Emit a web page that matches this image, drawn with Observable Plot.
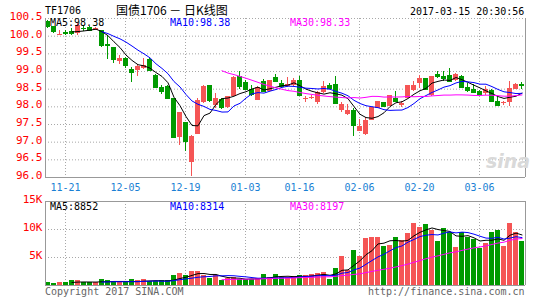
<!DOCTYPE html>
<html><head><meta charset="utf-8">
<script src="https://cdn.jsdelivr.net/npm/d3@7"></script>
<script src="https://cdn.jsdelivr.net/npm/@observablehq/plot@0.6"></script>
<style>
body{margin:0;background:#fff;}
#wrap{position:relative;width:540px;height:300px;overflow:hidden;background:#fff;}
#wrap svg{position:absolute;left:0;top:0;background:transparent;}
.t{position:absolute;white-space:nowrap;font-family:"DejaVu Sans Mono",monospace;font-size:10px;line-height:10px;}
</style></head><body><div id="wrap"></div>
<script>
const dates = ["11-16","11-17","11-18","11-21","11-22","11-23","11-24","11-25","11-28","11-29","11-30",
"12-01","12-02","12-05","12-06","12-07","12-08","12-09","12-12","12-13","12-14","12-15","12-16","12-19","12-20","12-21","12-22","12-23","12-26","12-27","12-28","12-29","12-30",
"01-03","01-04","01-05","01-06","01-09","01-10","01-11","01-12","01-13","01-16","01-17","01-18","01-19","01-20","01-23","01-24","01-25","01-26",
"02-03","02-06","02-07","02-08","02-09","02-10","02-13","02-14","02-15","02-16","02-17","02-20","02-21","02-22","02-23","02-24","02-27","02-28",
"03-01","03-02","03-03","03-06","03-07","03-08","03-09","03-10","03-13","03-14","03-15"];
const open = [100.41,100.26,100.04,100.10,100.14,100.08,100.23,100.24,100.17,100.17,99.76,99.67,99.27,99.36,99.07,99.03,
99.09,99.35,98.90,98.54,98.57,98.24,97.12,97.56,96.43,97.22,98.11,98.60,98.05,98.21,97.97,98.28,
98.85,98.68,98.50,98.19,98.73,98.42,98.82,98.66,98.57,98.61,98.75,98.22,98.24,98.12,98.40,98.61,
98.64,97.91,97.78,97.90,97.31,97.22,97.62,97.95,98.12,98.00,98.24,98.05,98.24,98.47,98.66,98.80,
98.31,98.92,98.87,98.90,98.75,98.85,98.54,98.50,98.44,98.38,98.47,98.16,98.12,98.12,98.50,98.62];
const high = [100.45,100.27,100.17,100.17,100.22,100.36,100.29,100.26,100.24,100.17,100.03,99.67,99.46,99.41,99.10,99.20,
99.37,99.36,98.92,98.61,98.60,98.24,97.84,97.56,97.19,98.24,98.60,98.60,98.38,98.24,98.30,98.85,
98.99,98.75,98.61,98.57,98.76,98.75,98.92,98.75,98.82,98.80,98.85,98.30,98.33,98.44,98.73,98.66,
98.85,98.12,98.07,97.95,97.65,97.69,97.97,98.16,98.12,98.33,98.44,98.16,98.61,98.73,98.88,98.80,
98.85,99.01,98.99,99.08,98.94,98.88,98.66,98.63,98.47,98.57,98.50,98.28,98.16,98.71,98.66,98.70];
const low = [100.22,100.08,100.01,100.03,100.03,100.03,100.14,100.14,100.15,99.67,99.34,99.24,99.21,99.09,98.68,98.85,
99.06,99.00,98.52,98.35,98.22,97.10,96.90,96.75,96.04,97.22,98.09,98.12,97.95,97.92,97.95,98.28,
98.50,98.47,98.28,98.19,98.40,98.42,98.71,98.54,98.54,98.58,98.28,98.12,98.20,98.07,98.38,98.50,
98.09,97.83,97.76,97.15,97.29,97.20,97.62,97.95,97.97,98.00,98.14,97.98,98.24,98.44,98.52,98.50,
98.28,98.80,98.71,98.73,98.73,98.54,98.40,98.38,98.31,98.33,98.14,98.03,98.05,98.00,98.50,98.50];
const close = [100.26,100.12,100.06,100.08,100.08,100.31,100.21,100.17,100.22,99.73,99.74,99.34,99.36,99.16,98.97,99.13,
99.18,99.03,98.54,98.42,98.24,97.12,97.84,97.01,97.15,98.19,98.57,98.19,98.24,97.97,98.28,98.82,
98.57,98.50,98.35,98.54,98.42,98.75,98.71,98.57,98.62,98.75,98.33,98.24,98.26,98.40,98.57,98.52,
98.09,98.07,97.90,97.46,97.43,97.62,97.97,98.14,98.00,98.31,98.16,98.10,98.61,98.60,98.80,98.50,
98.85,98.85,98.80,98.73,98.92,98.54,98.47,98.40,98.35,98.50,98.16,98.05,98.13,98.52,98.64,98.60];
const volume = [500,350,500,500,850,850,450,450,450,1150,850,700,450,450,1050,850,
1050,700,700,850,850,1750,2100,1850,2450,2450,1850,1250,1850,850,1300,1450,
1000,1000,1150,1300,2000,1400,1900,1480,1480,1600,1830,1720,1890,2190,2300,1000,
2960,5090,2600,6330,5090,8400,8640,8640,7040,7220,8640,8050,9350,11130,10300,10830,
9770,7930,10240,9470,6870,9410,8530,8290,6630,7520,9410,9770,7040,11130,9410,7810];
const priceTicks = [96.0,96.5,97.0,97.5,98.0,98.5,99.0,99.5,100.0,100.5];
const volTicks = [5000,10000,15000];
const dateTicks = ["11-21","12-05","12-19","01-03","01-16","02-06","02-20","03-06"];

const RED = "#f55555", GREEN = "#009a00", GRID = "#a8a8a8", FRAME = "#999999";
const MONO = "DejaVu Sans Mono, monospace";
const N = dates.length;
const tickIdx = dateTicks.map(d => dates.indexOf(d));
const rows = d3.range(N).map(i => ({i, o: open[i], h: high[i], l: low[i], c: close[i], v: volume[i],
  col: close[i] >= open[i] ? RED : GREEN}));
function ma(arr, n) { return arr.map((_, i) => i < n - 1 ? null : d3.mean(arr.slice(i - n + 1, i + 1))); }
function maRows(arr, n) { const m = ma(arr, n); return d3.range(N).filter(i => m[i] != null).map(i => ({i, m: m[i]})); }
const dotted = {stroke: GRID, strokeOpacity: 1, strokeDasharray: "1,2"};
const maDefs = [[5, "#000000"], [10, "#0000ff"], [30, "#ff00ff"]];

const main = Plot.plot({
  width: 540, height: 195, marginTop: 18, marginBottom: 18, marginLeft: 45, marginRight: 15,
  x: {domain: [-0.5, N - 0.5], label: null},
  y: {domain: [96, 100.5], label: null},
  color: {type: "identity"},
  style: {background: "transparent", fontFamily: MONO},
  marks: [
    Plot.gridY(priceTicks, dotted),
    Plot.gridX(tickIdx, {...dotted, dx: -1}),
    Plot.ruleX(rows, {x: "i", y1: "l", y2: "h", stroke: "col", dx: -1, shapeRendering: "crispEdges"}),
    Plot.rect(rows, {x1: d => d.i - 0.5, x2: d => d.i + 0.5, insetRight: 1, dx: -0.5, y1: "o", y2: "c", fill: "col", shapeRendering: "crispEdges"}),
    Plot.ruleY(rows, {x1: d => d.i - 0.5, x2: d => d.i + 0.5, insetRight: 1, dx: -0.5, y: "c", stroke: "col", shapeRendering: "crispEdges"}),
    ...maDefs.map(([n, c]) => Plot.line(maRows(close, n), {x: "i", y: "m", stroke: c, strokeWidth: 1, dx: -0.5})),
    Plot.ruleX([-0.5, N - 0.5], {stroke: FRAME}),
    Plot.ruleY([96], {stroke: FRAME}),
    Plot.axisY(priceTicks, {label: null, tickSize: 0, tickPadding: 3, fill: "#ff0000", fontSize: 11, fontFamily: MONO, dy: -2, tickFormat: d => d.toFixed(1)}),
    Plot.axisX(tickIdx, {label: null, tickSize: 0, tickPadding: 6, fill: "#1a7fd4", fontSize: 10, fontFamily: MONO, dx: -1, tickFormat: i => dates[i]})
  ]
});

const vol = Plot.plot({
  width: 540, height: 300, marginTop: 201, marginBottom: 15, marginLeft: 45, marginRight: 15,
  x: {domain: [-0.5, N - 0.5], axis: null, label: null},
  y: {domain: [0, 15000], label: null},
  color: {type: "identity"},
  style: {background: "transparent", fontFamily: MONO},
  marks: [
    Plot.gridY([5000, 10000], dotted),
    Plot.gridX(tickIdx, {...dotted, dx: -1}),
    Plot.rect(rows, {x1: d => d.i - 0.5, x2: d => d.i + 0.5, insetRight: 1, dx: -0.5, y1: 0, y2: "v", fill: "col", shapeRendering: "crispEdges"}),
    ...maDefs.map(([n, c]) => Plot.line(maRows(volume, n), {x: "i", y: "m", stroke: c, strokeWidth: 1, dx: -0.5})),
    Plot.ruleX([-0.5, N - 0.5], {stroke: FRAME}),
    Plot.ruleY([0, 15000], {stroke: FRAME}),
    Plot.axisY(volTicks, {label: null, tickSize: 0, tickPadding: 3, fill: "#ff0000", fontSize: 11, fontFamily: MONO, dy: -2, tickFormat: d => (d / 1000) + "K"})
  ]
});

const wrap = document.getElementById("wrap");
wrap.appendChild(main);
wrap.appendChild(vol);

function txt(s, left, top, color, extra) {
  const e = document.createElement("div");
  e.className = "t";
  e.textContent = s;
  e.style.left = left + "px"; e.style.top = top + "px"; e.style.color = color;
  if (extra) Object.assign(e.style, extra);
  wrap.appendChild(e);
  return e;
}
txt("TF1706", 45, 6, "#000");
txt("国债1706 － 日K线图", 116, 3, "#000", {fontFamily: "Noto Sans CJK SC, sans-serif", fontSize: "12px", lineHeight: "14px"});
txt("2017-03-15 20:30:56", 410, 7, "#000");
txt("MA5:98.38", 50, 18, "#000");
txt("MA10:98.38", 170, 18, "#0000ff");
txt("MA30:98.33", 290, 18, "#ff00ff");
txt("MA5:8852", 50, 201.5, "#000");
txt("MA10:8314", 170, 201.5, "#0000ff");
txt("MA30:8197", 290, 201.5, "#ff00ff");
txt("Copyright 2017 SINA.COM", 45, 287, "#666");
txt("http://finance.sina.com.cn", 368, 287, "#666");
txt("sina", 486, 152, "#d9d9d9", {fontFamily: "DejaVu Sans, sans-serif", fontStyle: "italic", fontWeight: "bold", fontSize: "19px", lineHeight: "19px"});
</script></body></html>
